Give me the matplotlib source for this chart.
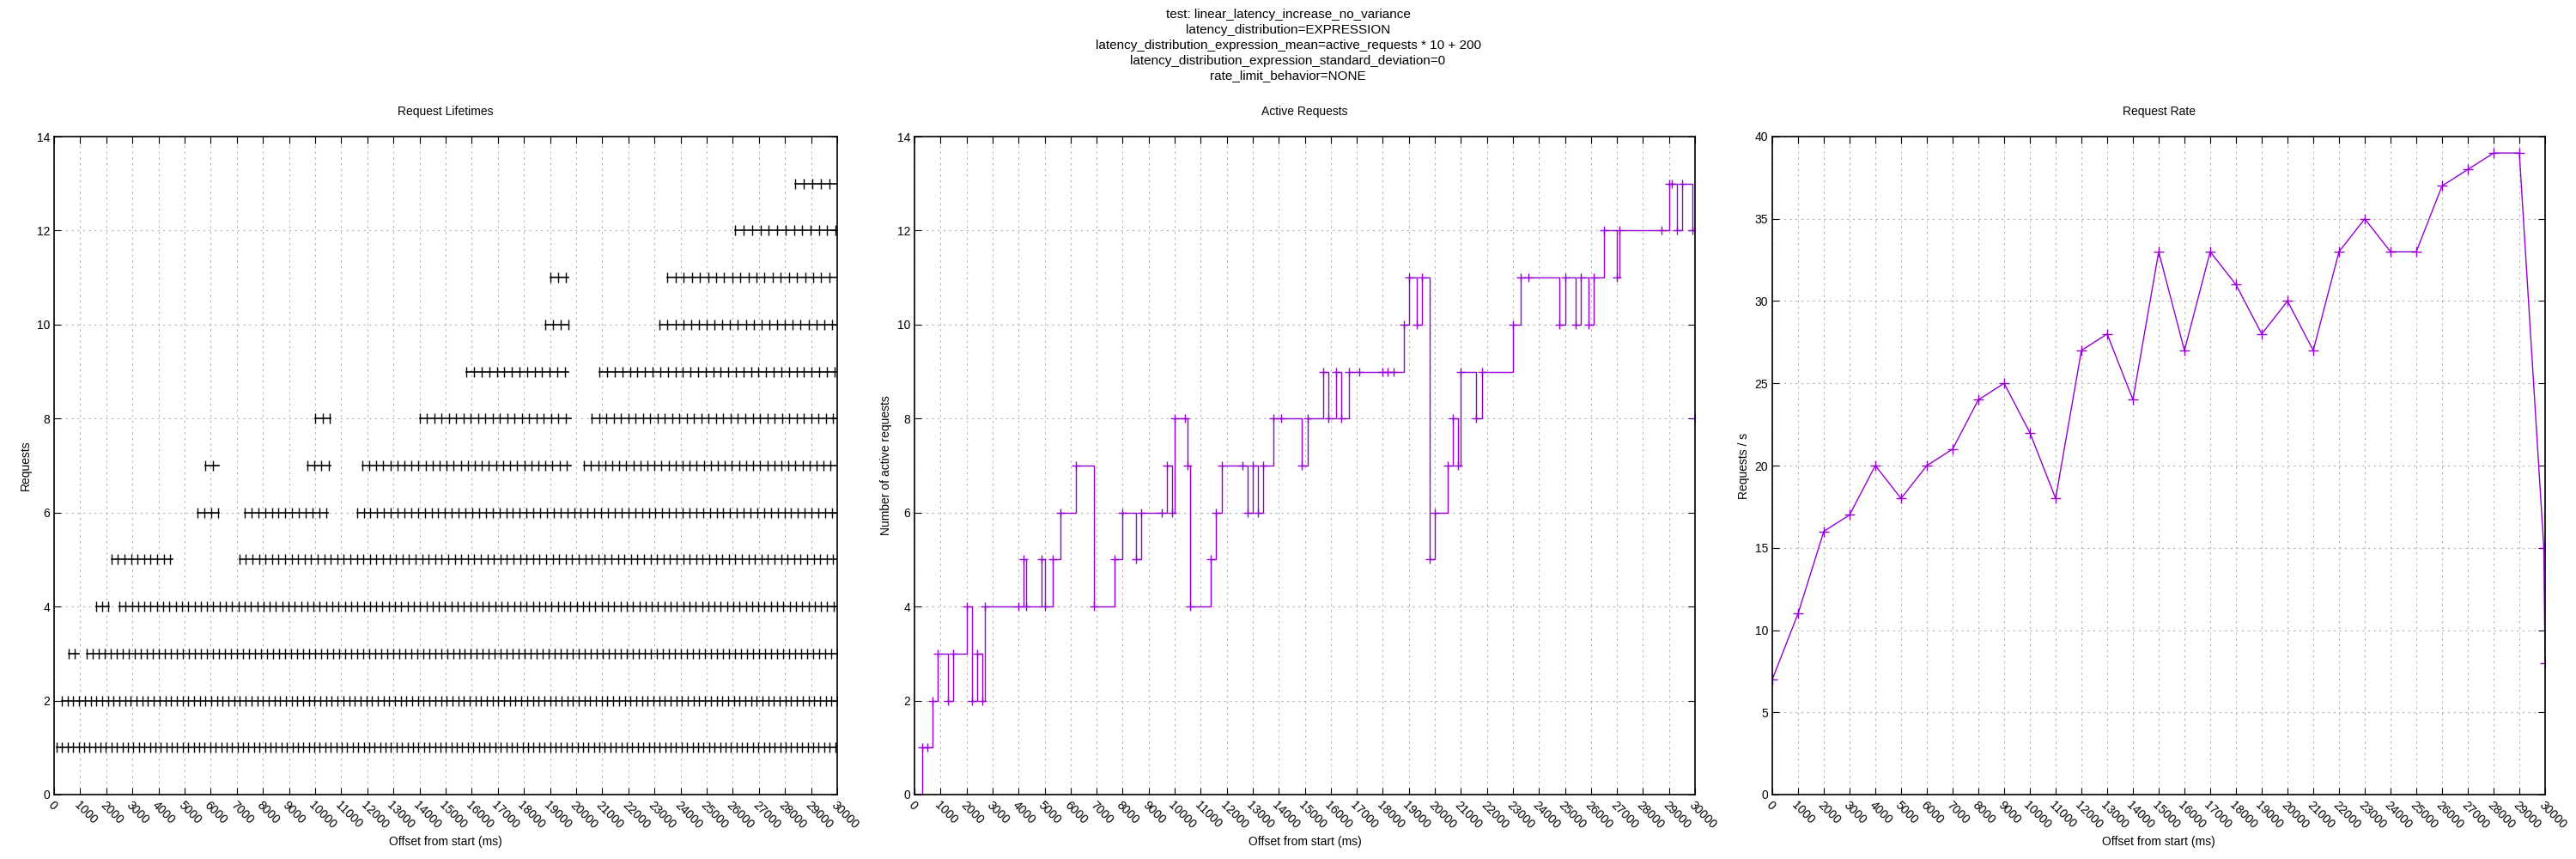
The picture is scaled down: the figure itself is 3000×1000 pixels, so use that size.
import matplotlib

matplotlib.use("Agg")

import matplotlib.pyplot as plt
import numpy as np

plt.rcParams["font.family"] = ["Liberation Sans", "DejaVu Sans"]
plt.rcParams["font.size"] = 10

TITLE = [
    "test: linear_latency_increase_no_variance",
    "latency_distribution=EXPRESSION",
    "latency_distribution_expression_mean=active_requests * 10 + 200",
    "latency_distribution_expression_standard_deviation=0",
    "rate_limit_behavior=NONE",
]

# request lifetime spans per slot (ms): (start, end)
lifetime_rows = {
    1: [(100, 30000)],
    2: [(300, 30000)],
    3: [(570, 950), (1250, 30000)],
    4: [(1600, 2100), (2500, 30000)],
    5: [(2200, 4550), (7100, 30000)],
    6: [(5500, 6300), (7300, 10500), (11600, 30000)],
    7: [(5800, 6300), (9700, 10600), (11800, 19800), (20300, 30000)],
    8: [(10000, 10600), (14000, 19800), (20600, 30000)],
    9: [(15800, 19700), (20900, 30000)],
    10: [(18800, 19700), (23200, 30000)],
    11: [(19000, 19700), (23500, 30000)],
    12: [(26100, 30000)],
    13: [(28400, 30000)],
}
# request duration per slot (ms)
lifetime_dur = {1: 210, 2: 220, 3: 230, 4: 240, 5: 250, 6: 260, 7: 270,
                8: 280, 9: 290, 10: 300, 11: 310, 12: 320, 13: 330}

active_t = [0, 300, 500, 700, 900, 1300, 1500, 2000, 2200, 2400, 2600, 2700, 4000,
            4200, 4300, 4900, 5000, 5300, 5600, 6200, 6900, 7700, 8000, 8500, 8700,
            9500, 9700, 9900, 10000, 10400, 10500, 10600, 11400, 11600, 11800, 12600,
            12800, 13000, 13200, 13400, 13800, 14100, 14900, 15100, 15700, 15900, 16200,
            16400, 16700, 17100, 18000, 18200, 18400, 18800, 19000, 19300, 19500, 19800,
            20000, 20500, 20700, 20900, 21000, 21600, 21800, 23000, 23300, 23600, 24800,
            25000, 25400, 25600, 25900, 26100, 26500, 27000, 27100, 28700, 29000, 29100,
            29300, 29500, 29900, 30000]
active_v = [0, 1, 1, 2, 3, 2, 3, 4, 2, 3, 2, 4, 4,
            5, 4, 5, 4, 5, 6, 7, 4, 5, 6, 5, 6,
            6, 7, 6, 8, 8, 7, 4, 5, 6, 7, 7,
            6, 7, 6, 7, 8, 8, 7, 8, 9, 8, 9,
            8, 9, 9, 9, 9, 9, 10, 11, 10, 11, 5,
            6, 7, 8, 7, 9, 8, 9, 10, 11, 11, 10,
            11, 10, 11, 10, 11, 12, 11, 12, 12, 13, 13,
            12, 13, 12, 8]

rate_t = [0, 1000, 2000, 3000, 4000, 5000, 6000, 7000, 8000, 9000, 10000, 11000,
          12000, 13000, 14000, 15000, 16000, 17000, 18000, 19000, 20000, 21000,
          22000, 23000, 24000, 25000, 26000, 27000, 28000, 29000, 29950, 30000]
rate_v = [7, 11, 16, 17, 20, 18, 20, 21, 24, 25, 22, 18, 27, 28, 24, 33, 27, 33,
          31, 28, 30, 27, 33, 35, 33, 33, 37, 38, 39, 39, 15, 8]

PURPLE = "#9400d3"

fig = plt.figure(figsize=(30, 10), dpi=100)
fig.text(0.5, 0.99, "\n".join(TITLE), ha="center", va="top", fontsize=11,
         linespacing=1.35)

pos = [(0.021, 0.075, 0.304, 0.766), (0.355, 0.075, 0.303, 0.766),
       (0.688, 0.075, 0.300, 0.766)]
axes = [fig.add_axes(p) for p in pos]


def style(ax, title, ylabel, ymax, ystep):
    ax.set_title(title, fontsize=10, pad=18)
    ax.set_xlim(0, 30000)
    ax.set_ylim(0, ymax)
    ax.set_xticks(np.arange(0, 30001, 1000))
    ax.set_xticklabels([str(v) for v in range(0, 30001, 1000)], rotation=-45,
                       ha="left", rotation_mode="anchor", fontsize=10)
    ax.set_yticks(np.arange(0, ymax + 0.1, ystep))
    ax.tick_params(direction="in", top=True, right=True, length=6)
    ax.grid(True, color="#b0b0b0", linestyle=(0, (2, 4)), linewidth=0.8)
    ax.set_xlabel("Offset from start (ms)", fontsize=10)
    ax.set_ylabel(ylabel, fontsize=10)
    for s in ax.spines.values():
        s.set_linewidth(1.2)


# 1. request lifetimes
ax = axes[0]
for row, spans in lifetime_rows.items():
    d = lifetime_dur[row]
    for a, b in spans:
        ax.plot([a, b], [row, row], color="black", linewidth=1.2)
        ts = np.arange(a, b + 1, d)
        ax.plot(ts, np.full_like(ts, row, dtype=float), linestyle="none",
                marker="|", markersize=8, color="black", markeredgewidth=1)
style(ax, "Request Lifetimes", "Requests", 14, 2)

# 2. active requests
ax = axes[1]
ax.step(active_t, active_v, where="post", color=PURPLE, linewidth=1)
ax.plot(active_t, active_v, linestyle="none", marker="+", markersize=7,
        color=PURPLE)
style(ax, "Active Requests", "Number of active requests", 14, 2)

# 3. request rate
ax = axes[2]
ax.plot(rate_t, rate_v, color=PURPLE, linewidth=1, marker="+", markersize=8)
style(ax, "Request Rate", "Requests / s", 40, 5)

fig.savefig("out.png", dpi=100)
